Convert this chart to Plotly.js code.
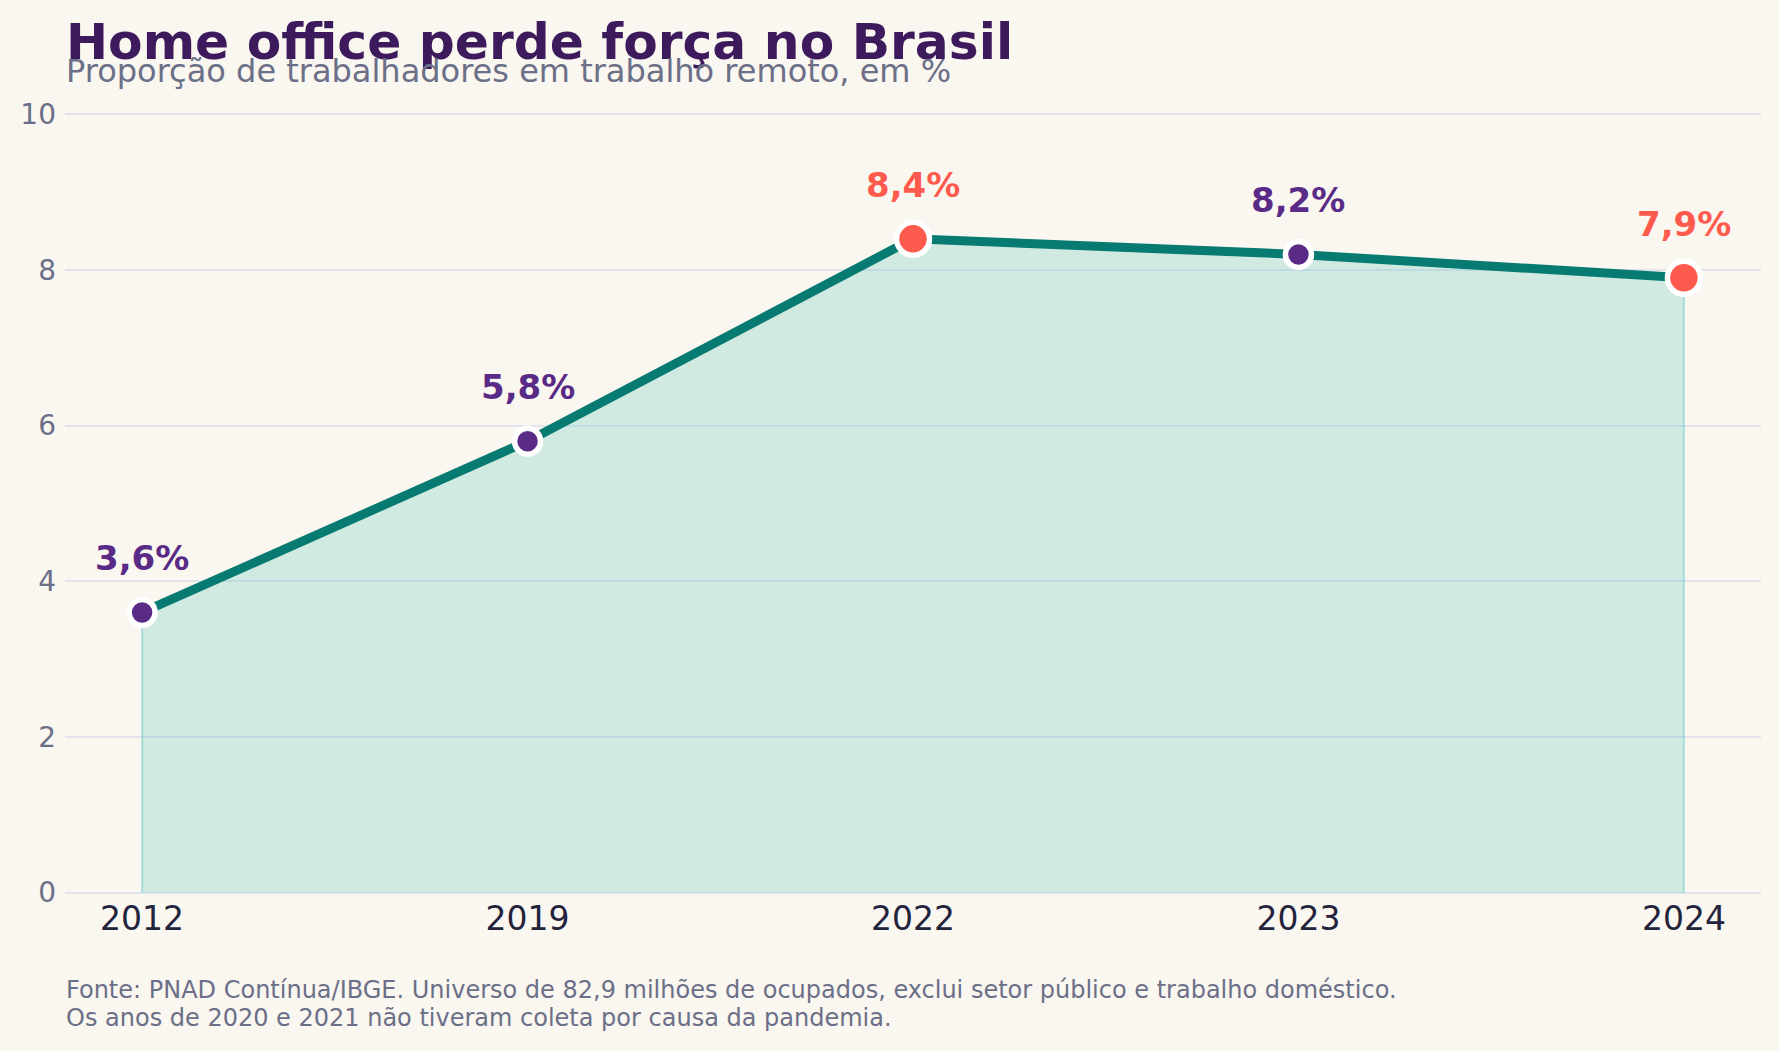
<!DOCTYPE html>
<html>
<head>
<meta charset="utf-8">
<script src="https://cdn.plot.ly/plotly-3.0.1.min.js"></script>
<style>html,body{margin:0;padding:0;background:#faf6f0;}#chart{width:1779px;height:1051px;}</style>
</head>
<body>
<div id="chart"></div>
<script>
const years = ['2012', '2019', '2022', '2023', '2024'];
const values = [3.6, 5.8, 8.4, 8.2, 7.9];
const highlight = [false, false, true, false, true];
const yTicks = [0, 2, 4, 6, 8, 10];

const titleText = 'Home office perde força no Brasil';
const subtitleText = 'Proporção de trabalhadores em trabalho remoto, em %';
const footerLines = [
  'Fonte: PNAD Contínua/IBGE. Universo de 82,9 milhões de ocupados, exclui setor público e trabalho doméstico.',
  'Os anos de 2020 e 2021 não tiveram coleta por causa da pandemia.'
];

const PURPLE = '#5a2a87';
const RED = '#ff5a4e';
const TEAL = '#077b72';
const FONT = 'DejaVu Sans';

const labels = values.map(v => v.toFixed(1).replace('.', ',') + '%');

// fill polygon built from data
const polyX = [years[0]].concat(years, [years[years.length - 1]]);
const polyY = [0].concat(values, [0]);

const traces = [
  {
    x: polyX, y: polyY, type: 'scatter', mode: 'lines',
    fill: 'toself', fillcolor: 'rgba(26,188,165,0.19)',
    line: {color: 'rgba(60,190,185,0.35)', width: 2},
    hoverinfo: 'skip', showlegend: false
  },
  {
    x: years, y: values, type: 'scatter', mode: 'lines',
    line: {color: TEAL, width: 9},
    hoverinfo: 'skip', showlegend: false
  },
  {
    x: years, y: values, type: 'scatter', mode: 'markers',
    marker: {
      color: highlight.map(h => h ? RED : PURPLE),
      size: highlight.map(h => h ? 33 : 26),
      opacity: 1,
      line: {color: '#ffffff', width: 5.5}
    },
    cliponaxis: false, hoverinfo: 'skip', showlegend: false
  }
];

const annotations = years.map((yr, i) => ({
  x: i, y: values[i], xref: 'x', yref: 'y',
  text: '<b>' + labels[i] + '</b>', showarrow: false,
  xanchor: 'center', yanchor: 'middle', yshift: 54,
  font: {family: FONT, size: 34, color: highlight[i] ? RED : PURPLE}
}));

annotations.push({
  xref: 'paper', yref: 'paper', x: 0, y: 1.0900, xanchor: 'left', yanchor: 'middle',
  text: '<b>' + titleText + '</b>', showarrow: false, borderpad: 0,
  font: {family: FONT, size: 50.3, color: '#3d1a5c'}
});
annotations.push({
  xref: 'paper', yref: 'paper', x: 0, y: 1.0524, xanchor: 'left', yanchor: 'middle',
  text: subtitleText, showarrow: false, borderpad: 0,
  font: {family: FONT, size: 32, color: '#6b6f87'}
});
annotations.push({
  xref: 'paper', yref: 'paper', x: 0, y: -0.1210, xanchor: 'left', yanchor: 'middle', align: 'left',
  text: footerLines[0], showarrow: false, borderpad: 0,
  font: {family: FONT, size: 24, color: '#6b6f87'}
});
annotations.push({
  xref: 'paper', yref: 'paper', x: 0, y: -0.1567, xanchor: 'left', yanchor: 'middle', align: 'left',
  text: footerLines[1], showarrow: false, borderpad: 0,
  font: {family: FONT, size: 24, color: '#6b6f87'}
});

const layout = {
  width: 1779, height: 1051,
  margin: {l: 65, r: 18, t: 112, b: 156},
  paper_bgcolor: '#faf6f0', plot_bgcolor: '#faf6f0',
  font: {family: FONT},
  showlegend: false,
  xaxis: {
    type: 'category', range: [-0.2, 4.2],
    showgrid: false, zeroline: false, showline: false, ticks: '',
    tickfont: {family: FONT, size: 33, color: '#23233b'},
    ticklabelstandoff: 1,
    fixedrange: true
  },
  yaxis: {
    range: [-0.03, 10.03], tickvals: yTicks, ticktext: yTicks.map(String),
    showgrid: true, gridcolor: '#e3e3ee', gridwidth: 2,
    zeroline: false, showline: false, ticks: '',
    tickfont: {family: FONT, size: 28, color: '#6b6f87'},
    ticklabelstandoff: 8,
    fixedrange: true
  },
  annotations: annotations
};

Plotly.newPlot('chart', traces, layout, {displayModeBar: false, staticPlot: true});
</script>
</body>
</html>
